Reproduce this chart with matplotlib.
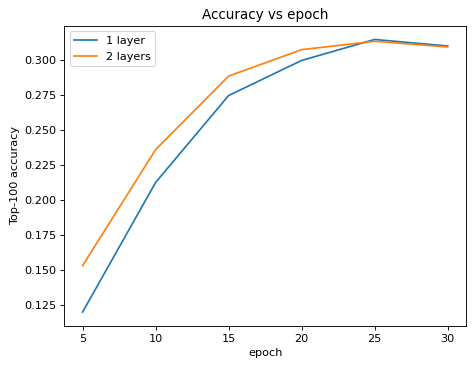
import numpy as np
import matplotlib.pyplot as plt

epochs = [5, 10, 15, 20, 25, 30]
acc_1_layer = [0.1200, 0.2127, 0.2749, 0.3000, 0.3150, 0.3103]
acc_2_layers = [0.1532, 0.2362, 0.2888, 0.3077, 0.3137, 0.3096]

dpi = 81
fig, ax = plt.subplots(figsize=(474 / dpi, 369 / dpi), dpi=dpi)
fig.subplots_adjust(left=0.1357, right=0.983, top=0.930, bottom=0.1173)

ax.plot(epochs, acc_1_layer, label='1 layer')
ax.plot(epochs, acc_2_layers, label='2 layers')

ax.set_title('Accuracy vs epoch')
ax.set_xlabel('epoch')
ax.set_ylabel('Top-100 accuracy')
ax.legend(loc='upper left')

plt.savefig('out.png', dpi=dpi)
